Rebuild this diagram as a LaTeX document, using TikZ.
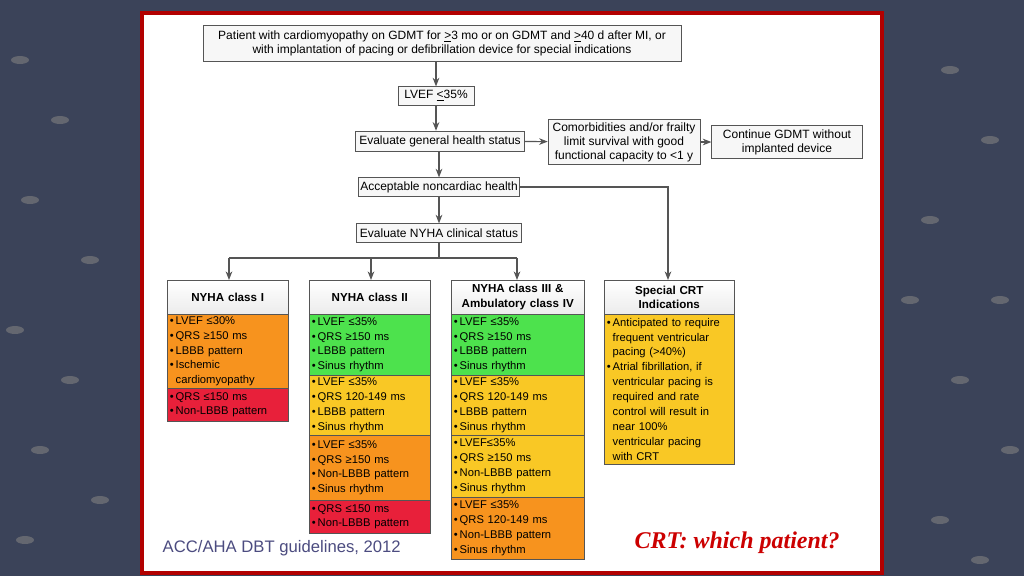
\documentclass[tikz,border=0pt]{standalone}
\usepackage{fontspec}
\setmainfont{Liberation Sans}
\newfontfamily\serifit{Liberation Serif}
\usetikzlibrary{arrows.meta}
\definecolor{bgc}{HTML}{3B4359}
\definecolor{cor}{HTML}{F7931E}
\definecolor{cgr}{HTML}{4DE24D}
\definecolor{cye}{HTML}{F9C825}
\definecolor{cre}{HTML}{E8203A}
\definecolor{lnc}{HTML}{555555}
\begin{document}
\begin{tikzpicture}[x=0.75pt,y=-0.75pt,
  box/.style={draw=lnc, fill=gray!6, font=\fontsize{9}{10.5}\selectfont, inner sep=1pt, align=center},
  cell/.style={draw=lnc, anchor=north west, inner xsep=2pt, inner ysep=0pt, align=left, font=\fontsize{8.4}{11.2}\selectfont},
  hd/.style={cell, top color=white, bottom color=gray!15, align=center, font=\fontsize{8.7}{11}\selectfont\bfseries},
  arr/.style={draw=lnc, thick, -{Stealth[length=6.5pt,width=5pt]}},
  ln/.style={draw=lnc, thick}]
\fill[bgc] (0,0) rectangle (1024,576);
\foreach \x/\y in {20/60,60/120,30/200,90/260,15/330,70/380,40/450,100/500,25/540,950/70,990/140,930/220,1000/300,960/380,1010/450,940/520,980/560,910/300}
  \fill[gray!60!bgc] (\x,\y) ellipse (9 and 4);
\draw[fill=white, draw=red!70!black, line width=2.6pt] (142,13) rectangle (882,573);

\node[box, minimum width=358.5pt, minimum height=27pt] (top) at (442,43) {Patient with cardiomyopathy on GDMT for \underline{>}3 mo or on GDMT and \underline{>}40 d after MI, or\\ with implantation of pacing or defibrillation device for special indications};
\node[box, minimum width=57pt, minimum height=14pt] (lvef) at (436,96) {LVEF \underline{<}35\%};
\node[box, minimum width=127pt, minimum height=15pt] (gen) at (440,141) {Evaluate general health status};
\node[box, minimum width=114pt, minimum height=34pt] (com) at (624,142) {Comorbidities and/or frailty\\ limit survival with good\\ functional capacity to <1 y};
\node[box, minimum width=113pt, minimum height=25pt] (cont) at (787,142) {Continue GDMT without\\ implanted device};
\node[box, minimum width=121pt, minimum height=14pt] (acc) at (439,187) {Acceptable noncardiac health};
\node[box, minimum width=124pt, minimum height=14pt] (nyha) at (439,233) {Evaluate NYHA clinical status};

\draw[arr] (top) -- (top.south -| lvef) -- (lvef);
\draw[arr] (lvef.south) -- (lvef.south |- gen.north);
\draw[arr] (gen) -- (com);
\draw[arr] (com) -- (cont);
\draw[arr] (gen.south -| acc) -- (acc);
\draw[arr] (acc) -- (nyha);
\coordinate (j) at (439,258);
\coordinate (jl) at (229,258);
\coordinate (jr) at (517,258);
\draw[ln] (nyha) -- (j);
\draw[ln] (jl) -- (jr);

% column 1
\node[hd, text width=86.75pt, minimum height=25.5pt] (h1) at (167,280) {NYHA class I};
\node[cell, fill=cor, text width=86.75pt, minimum height=55.5pt] (c1a) at (167,314) {\textbullet\,LVEF ≤30\%\\ \textbullet\,QRS ≥150 ms\\ \textbullet\,LBBB pattern\\ \textbullet\,Ischemic\\ \phantom{\textbullet\,}cardiomyopathy};
\node[cell, fill=cre, text width=86.75pt, minimum height=24.75pt] (c1b) at (167,388) {\textbullet\,QRS ≤150 ms\\ \textbullet\,Non-LBBB pattern};
% column 2
\node[hd, text width=86.75pt, minimum height=25.5pt] (h2) at (309,280) {NYHA class II};
\node[cell, fill=cgr, text width=86.75pt, minimum height=45.75pt] (c2a) at (309,314) {\textbullet\,LVEF ≤35\%\\ \textbullet\,QRS ≥150 ms\\ \textbullet\,LBBB pattern\\ \textbullet\,Sinus rhythm};
\node[cell, fill=cye, text width=86.75pt, minimum height=45pt] (c2b) at (309,375) {\textbullet\,LVEF ≤35\%\\ \textbullet\,QRS 120-149 ms\\ \textbullet\,LBBB pattern\\ \textbullet\,Sinus rhythm};
\node[cell, fill=cor, text width=86.75pt, minimum height=48.75pt] (c2c) at (309,435) {\textbullet\,LVEF ≤35\%\\ \textbullet\,QRS ≥150 ms\\ \textbullet\,Non-LBBB pattern\\ \textbullet\,Sinus rhythm};
\node[cell, fill=cre, text width=86.75pt, minimum height=24.75pt] (c2d) at (309,500) {\textbullet\,QRS ≤150 ms\\ \textbullet\,Non-LBBB pattern};
% column 3
\node[hd, text width=95.75pt, minimum height=25.5pt] (h3) at (451,280) {NYHA class III \&\\ Ambulatory class IV};
\node[cell, fill=cgr, text width=95.75pt, minimum height=45.75pt] (c3a) at (451,314) {\textbullet\,LVEF ≤35\%\\ \textbullet\,QRS ≥150 ms\\ \textbullet\,LBBB pattern\\ \textbullet\,Sinus rhythm};
\node[cell, fill=cye, text width=95.75pt, minimum height=45pt] (c3b) at (451,375) {\textbullet\,LVEF ≤35\%\\ \textbullet\,QRS 120-149 ms\\ \textbullet\,LBBB pattern\\ \textbullet\,Sinus rhythm};
\node[cell, fill=cye, text width=95.75pt, minimum height=46.5pt] (c3c) at (451,435) {\textbullet\,LVEF≤35\%\\ \textbullet\,QRS ≥150 ms\\ \textbullet\,Non-LBBB pattern\\ \textbullet\,Sinus rhythm};
\node[cell, fill=cor, text width=95.75pt, minimum height=46.5pt] (c3d) at (451,497) {\textbullet\,LVEF ≤35\%\\ \textbullet\,QRS 120-149 ms\\ \textbullet\,Non-LBBB pattern\\ \textbullet\,Sinus rhythm};
% special
\node[hd, text width=93.5pt, minimum height=25.5pt] (h4) at (604,280) {Special CRT\\ Indications};
\node[cell, fill=cye, text width=93.5pt, minimum height=112.5pt] (c4) at (604,314) {\textbullet\,Anticipated to require\\ \phantom{\textbullet\,}frequent ventricular\\ \phantom{\textbullet\,}pacing (>40\%)\\ \textbullet\,Atrial fibrillation, if\\ \phantom{\textbullet\,}ventricular pacing is\\ \phantom{\textbullet\,}required and rate\\ \phantom{\textbullet\,}control will result in\\ \phantom{\textbullet\,}near 100\%\\ \phantom{\textbullet\,}ventricular pacing\\ \phantom{\textbullet\,}with CRT};

\draw[arr] (jl) -- (jl |- h1.north);
\draw[arr] (371,258) -- (371,280);
\draw[arr] (jr) -- (jr |- h3.north);
\draw[arr] (acc.east) -- (668,187) -- (668,280);

\node[anchor=west, text=blue!25!gray!80!black, font=\fontsize{12.5}{14}\selectfont] (ref) at (158,548) {ACC/AHA DBT guidelines, 2012};
\node[anchor=west, text=red!80!black, font=\serifit\fontsize{18}{20}\selectfont\bfseries\itshape] (ttl) at (630,543) {CRT: which patient?};
\end{tikzpicture}
\end{document}
